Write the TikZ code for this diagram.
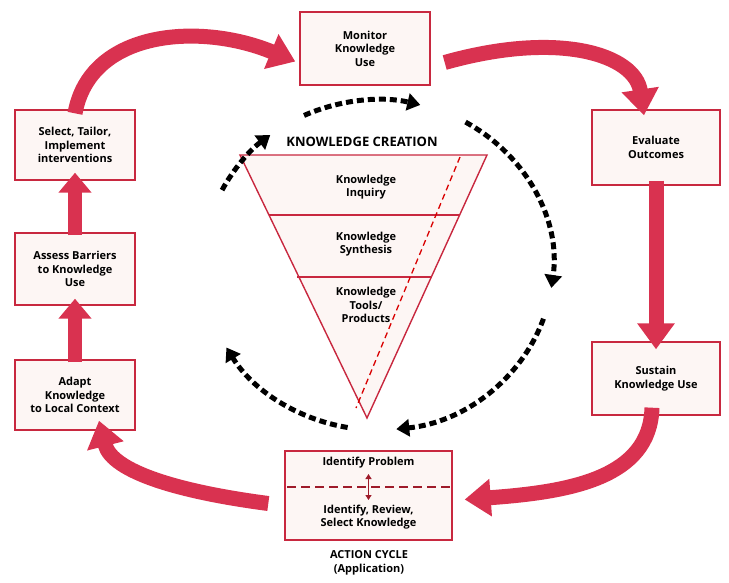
\documentclass[tikz,border=0pt]{standalone}
\usepackage{fontspec}
\setmainfont{Open Sans}
\usetikzlibrary{arrows.meta}
\definecolor{boxred}{HTML}{C8283F}
\definecolor{bigred}{HTML}{D93250}
\definecolor{pinkfill}{HTML}{FDF6F4}
\definecolor{darkred}{HTML}{9E1B2A}
\begin{document}
\begin{tikzpicture}[x=1pt,y=-1pt,
  box/.style={draw=boxred,line width=1.4pt,fill=pinkfill,font=\bfseries\fontsize{11}{13.5}\selectfont,align=center,inner sep=0pt},
  big/.style={draw=bigred,line width=15pt,-{Triangle[width=36pt,length=26pt]}},
  bigs/.style={draw=bigred,line width=14pt,-{Triangle[width=32pt,length=20pt]}},
  dots/.style={draw=black,line width=5pt,dash pattern=on 7pt off 4pt,-{Triangle[width=17pt,length=13pt]}},
  lbl/.style={font=\bfseries\fontsize{11}{13.5}\selectfont,align=center}]
\useasboundingbox (0,0) rectangle (729,582);
% boxes
\node[box,minimum width=130pt,minimum height=73pt] (mon) at (365,48.5) {Monitor\\Knowledge\\Use};
\node[box,minimum width=128pt,minimum height=75pt] (eva) at (656,147.5) {Evaluate\\Outcomes};
\node[box,minimum width=128pt,minimum height=73pt] (sus) at (656,378.5) {Sustain\\Knowledge Use};
\node[box,minimum width=120pt,minimum height=70pt] (sel) at (75,145) {Select, Tailor,\\Implement\\interventions};
\node[box,minimum width=120pt,minimum height=72pt] (ass) at (75,269) {Assess Barriers\\to Knowledge\\Use};
\node[box,minimum width=120pt,minimum height=70pt] (ada) at (75,395) {Adapt\\Knowledge\\to Local Context};
\node[box,minimum width=167pt,minimum height=89pt] (idf) at (368.5,495.5) {};
\node[lbl] (ip) at (368.5,463) {Identify Problem};
\node[lbl] (ir) at (368.5,517) {Identify, Review,\\Select Knowledge};
\coordinate (dl) at (287,487);
\coordinate (dr) at (454,487);
\draw[darkred,line width=1.6pt,dash pattern=on 9pt off 5pt] (dl) -- (dr);
\coordinate (ua) at (368.5,474);
\coordinate (da) at (368.5,500);
\draw[darkred,line width=1.3pt,{Triangle[width=6pt,length=5pt]}-{Triangle[width=6pt,length=5pt]}] (ua) -- (da);
\node[lbl] (ac) at (369,563) {ACTION CYCLE\\(Application)};
% big arrows
\draw[big] ([yshift=-4pt]sel.north) .. controls (90,30) and (200,22) .. ([xshift=-4pt,yshift=-13pt]mon.west);
\draw[big] ([xshift=14pt,yshift=-14pt]mon.east) .. controls (560,30) and (635,55) .. ([xshift=-12pt,yshift=-6pt]eva.north);
\draw[big] ([yshift=5pt]eva.south) -- ([yshift=-8pt]sus.north);
\draw[big] ([xshift=-4pt,yshift=8pt]sus.south) .. controls (650,478) and (570,492) .. ([xshift=12pt,yshift=-4pt]idf.east);
\draw[big] ([xshift=-16pt,yshift=-8pt]idf.west) .. controls (180,492) and (112,472) .. ([xshift=24pt,yshift=10pt]ada.south);
\draw[bigs] ([yshift=-3pt]ada.north) -- ([yshift=7pt]ass.south);
\draw[bigs] ([yshift=-3pt]ass.north) -- ([yshift=8pt]sel.south);
% knowledge creation funnel
\coordinate (tl) at (240,155);
\coordinate (tr) at (487,155);
\coordinate (tb) at (367,418);
\draw[boxred,line width=1.4pt,fill=pinkfill] (tl) -- (tr) -- (tb) -- cycle;
\coordinate (l1) at (269,215); \coordinate (r1) at (460,215);
\coordinate (l2) at (297,277); \coordinate (r2) at (432,277);
\draw[boxred,line width=1.4pt] (l1) -- (r1);
\draw[boxred,line width=1.4pt] (l2) -- (r2);
\coordinate (da1) at (460,157); \coordinate (da2) at (356,408);
\draw[red!85!black,line width=1.3pt,dash pattern=on 6pt off 4pt] (da1) -- (da2);
\node[lbl] (kc) at (362,142) {\fontsize{13}{15}\selectfont KNOWLEDGE CREATION};
\node[lbl] (ki) at (366,187) {Knowledge\\Inquiry};
\node[lbl] (ks) at (366,244) {Knowledge\\Synthesis};
\node[lbl] (kt) at (366,305) {Knowledge\\Tools/\\Products};
% dashed cycle
\coordinate (c) at (378,265);
\draw[dots] (c) ++(-153:175 and 165) arc[start angle=-153,end angle=-128,x radius=175,y radius=165];
\draw[dots] (c) ++(-115:175 and 165) arc[start angle=-115,end angle=-76,x radius=175,y radius=165];
\draw[dots] (c) ++(-60:175 and 165) arc[start angle=-60,end angle=8,x radius=175,y radius=165];
\draw[dots] (c) ++(19:175 and 165) arc[start angle=19,end angle=84,x radius=175,y radius=165];
\draw[dots] (c) ++(100:175 and 165) arc[start angle=100,end angle=150,x radius=175,y radius=165];
\end{tikzpicture}
\end{document}
